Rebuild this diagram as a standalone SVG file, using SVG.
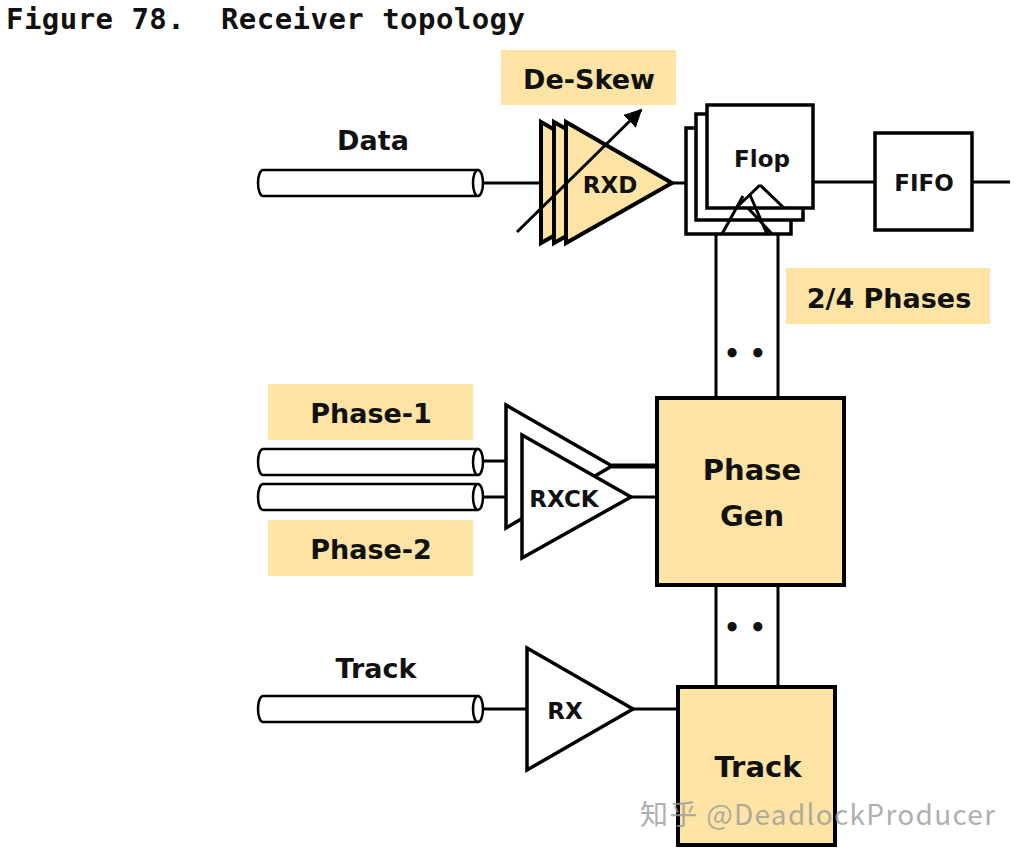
<svg xmlns="http://www.w3.org/2000/svg" width="1021" height="855" viewBox="0 0 1021 855">
<style>
.l{stroke:#000;stroke-width:3;fill:none}
.cab{fill:#fff;stroke:#000;stroke-width:2.5}
.y{fill:#fde4a4}
.yb{fill:#fde4a4;stroke:#000;stroke-width:4}
.w{fill:#fff;stroke:#000;stroke-width:3.5}
.t{font-family:"DejaVu Sans",sans-serif;font-weight:bold;fill:#111}
</style>
<defs>
<marker id="ah" viewBox="0 0 10 10" refX="9" refY="5" markerWidth="6" markerHeight="6" orient="auto"><path d="M0,0L10,5L0,10z" fill="#000"/></marker>
<g id="cable"><path class="cab" d="M263,0H478A5,13 0 0 1 478,26H263A5,13 0 0 1 263,0z"/><path class="cab" d="M478,0A5,13 0 0 0 478,26"/></g>
</defs>
<rect width="1021" height="855" fill="#fff"/>
<text x="6" y="29" font-size="29" font-weight="bold" fill="#111" style="font-family:'DejaVu Sans Mono',monospace" xml:space="preserve" textLength="519">Figure 78.  Receiver topology</text>
<g id="connectors">
<path class="l" d="M483,183H541M672,183H686M813,182H875M972,182H1010"/>
<path class="l" d="M716,234V398M778,234V398M716,585V687M778,585V687"/>
<path class="l" d="M483,461H506M483,497H522M631,497H657"/>
<path stroke="#000" stroke-width="5" d="M612,466H657"/>
<path class="l" d="M483,709H527M633,709H678"/>
</g>
<g id="data"><use href="#cable" y="170"/><text class="t" x="373" y="150" font-size="27" text-anchor="middle">Data</text></g>
<g id="phase1"><use href="#cable" y="449"/><rect class="y" x="268" y="384" width="205" height="56"/><text class="t" x="371" y="423" font-size="27" text-anchor="middle">Phase-1</text></g>
<g id="phase2"><use href="#cable" y="484"/><rect class="y" x="268" y="520" width="205" height="56"/><text class="t" x="371" y="559" font-size="27" text-anchor="middle">Phase-2</text></g>
<g id="track-in"><use href="#cable" y="696"/><text class="t" x="376" y="678" font-size="27" text-anchor="middle">Track</text></g>
<g id="rxd">
<path class="yb" stroke-width="3" d="M541,122V243L647,183z"/>
<path class="yb" stroke-width="3" d="M554,122V243L660,183z"/>
<path class="yb" stroke-width="3" d="M566,122V243L672,183z"/>
<text class="t" x="610" y="193" font-size="23" text-anchor="middle">RXD</text>
<line x1="517" y1="232" x2="641" y2="110" stroke="#000" stroke-width="3" marker-end="url(#ah)"/>
</g>
<g id="deskew"><rect class="y" x="501" y="50" width="175" height="55"/><text class="t" x="589" y="89" font-size="27" text-anchor="middle">De-Skew</text></g>
<g id="flop">
<rect class="w" x="686" y="128" width="105" height="106"/>
<rect class="w" x="696" y="114" width="107" height="106"/>
<rect class="w" x="707" y="105" width="106" height="103"/>
<path class="l" d="M760,185L784,208M760,185L736,208"/>
<path class="l" d="M743,196L722,234M748,208L772,234M750,195L767,234"/>
<text class="t" x="762" y="167" font-size="23" text-anchor="middle">Flop</text>
</g>
<g id="fifo"><rect class="w" x="875" y="133" width="97" height="97"/><text class="t" x="924" y="191" font-size="23" text-anchor="middle">FIFO</text></g>
<g id="phases"><rect class="y" x="786" y="268" width="204" height="56"/><text class="t" x="889" y="308" font-size="27" text-anchor="middle">2/4 Phases</text></g>
<text class="t" x="745" y="363" font-size="26" text-anchor="middle">• •</text>
<text class="t" x="745" y="637" font-size="26" text-anchor="middle">• •</text>
<g id="rxck">
<path class="w" stroke-width="3" d="M506,405V528L612,466z"/>
<path class="w" stroke-width="3" d="M522,435V558L631,497z"/>
<text class="t" x="564" y="507" font-size="23" text-anchor="middle">RXCK</text>
</g>
<g id="phasegen"><rect class="yb" x="657" y="398" width="187" height="187"/><text class="t" x="752" y="480" font-size="29" text-anchor="middle">Phase</text><text class="t" x="752" y="526" font-size="29" text-anchor="middle">Gen</text></g>
<g id="rx"><path class="w" stroke-width="3" d="M527,648V770L633,709z"/><text class="t" x="565" y="719" font-size="23" text-anchor="middle">RX</text></g>
<g id="track"><rect class="yb" x="678" y="687" width="157" height="158"/><text class="t" x="758" y="777" font-size="29" text-anchor="middle">Track</text></g>
<text x="640" y="825" font-size="28" fill="#999" fill-opacity="0.8" textLength="355" font-family="Noto Sans CJK SC,sans-serif">知乎 @DeadlockProducer</text>
</svg>
